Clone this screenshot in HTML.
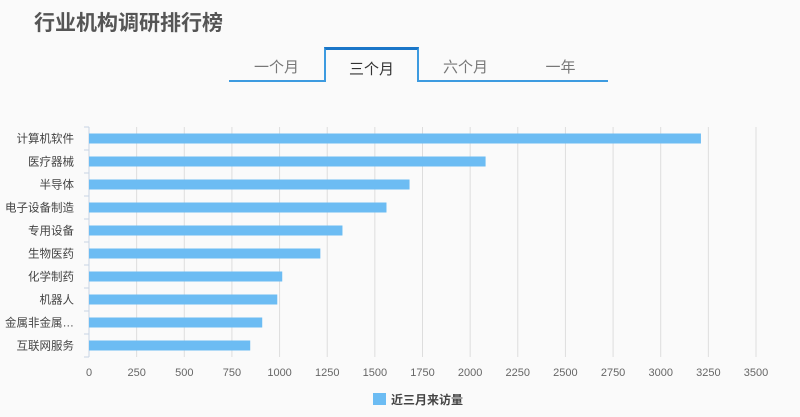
<!DOCTYPE html>
<html><head><meta charset="utf-8"><style>
body{margin:0;width:800px;height:417px;background:#fafafa;font-family:"Liberation Sans","Noto Sans CJK SC",sans-serif;overflow:hidden;position:relative}
.title{position:absolute;left:34px;top:7px;font-size:21px;font-weight:bold;color:#555}
.tabs{position:absolute;left:229px;top:47px;width:379px;height:35px}
.tab{position:absolute;top:0;height:33px;width:95px;text-align:center;line-height:42px;font-size:15px;color:#777;border-bottom:2px solid #3d9be0}
.tab.active{border:2px solid #3d9be0;border-top:3px solid #1a76c8;border-bottom:none;color:#333;height:32px;width:91px;line-height:40px;background:#fafafa}
</style></head><body>
<div class="title">行业机构调研排行榜</div>
<div class="tabs">
<div class="tab" style="left:0">一个月</div>
<div class="tab active" style="left:95px">三个月</div>
<div class="tab" style="left:189px">六个月</div>
<div class="tab" style="left:284px">一年</div>
</div>
<svg id="chart" width="800" height="417" style="position:absolute;left:0;top:0"></svg>
<script>
const categories=["计算机软件","医疗器械","半导体","电子设备制造","专用设备","生物医药","化学制药","机器人","金属非金属…","互联网服务"];
const values=[3211,2081,1682,1561,1330,1214,1014,988,909,846];
const ticks=[0,250,500,750,1000,1250,1500,1750,2000,2250,2500,2750,3000,3250,3500];
const seriesName="近三月来访量";
const NS="http://www.w3.org/2000/svg";
const svgEl=document.getElementById('chart');
const X0=89,X1=756,TOP=127,BOT=357,MAXV=3500;
const xs=v=>X0+(v/MAXV)*(X1-X0);
const band=(BOT-TOP)/categories.length;
const yc=i=>TOP+band*(i+0.5);
function mk(t,a){const e=document.createElementNS(NS,t);for(const k in a)e.setAttribute(k,a[k]);svgEl.appendChild(e);return e;}
ticks.forEach(t=>{
 const g=mk('line',{x1:xs(t),x2:xs(t),y1:TOP,y2:BOT,stroke:t===0?'#c8d4e4':'#dddddd','stroke-width':1});
 
 
 const tx=mk('text',{x:xs(t),y:BOT+19,'text-anchor':'middle','font-size':11,fill:'#666'});
 tx.textContent=t;
 
 
});
for(let i=0;i<=categories.length;i++){
 const l=mk('line',{x1:X0-5,x2:X0,y1:TOP+band*i,y2:TOP+band*i,stroke:'#c8d4e4'});
 
 
}
categories.forEach((c,i)=>{
 const r=mk('rect',{x:X0,y:yc(i)-5,width:xs(values[i])-X0,height:10,fill:'#6cbcf3'});
 
 
 const t=mk('text',{x:X0-15,y:yc(i)+4,'text-anchor':'end','font-size':11.5,fill:'#444'});
 t.textContent=c;
 
 
});
const lr=mk('rect',{x:373,y:393,width:13,height:12,fill:'#6cbcf3'});


const lt=mk('text',{x:391,y:404,'font-size':12,'font-weight':'bold',fill:'#444'});
lt.textContent=seriesName;


</script>
</body></html>
